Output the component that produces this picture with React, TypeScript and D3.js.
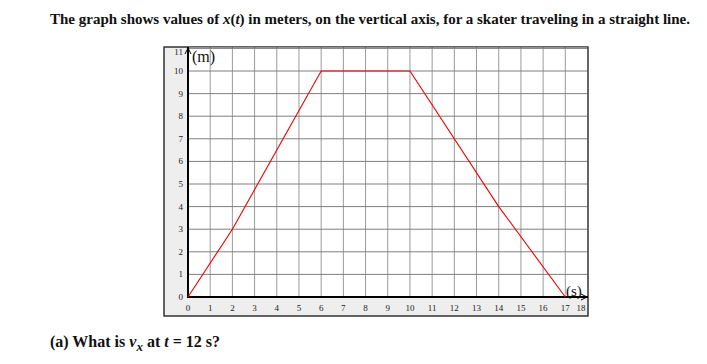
import React from "react";
import * as d3 from "d3";

const times = [0, 2, 6, 10, 14, 17];
const positions = [0, 3, 10, 10, 4, 0];
const xTicks = d3.range(0, 19);
const yTicks = d3.range(0, 12);

export default function App() {
  const W = 707, H = 364;
  const x = d3.scaleLinear().domain([0, 18]).range([188, 587.5]);
  const y = d3.scaleLinear().domain([0, 11]).range([297, 48.4]);
  const frameL = 164, frameT = 47, frameR = 588, frameB = 316;
  const line = d3.line<number>().x((d, i) => x(times[i])).y((d) => y(d));
  const font = "'Liberation Serif', 'Times New Roman', serif";

  return (
    <svg width={W} height={H} style={{ position: "absolute", left: 0, top: 0 }} fontFamily={font}>
      <rect width={W} height={H} fill="#fff" />
      <text x={50} y={24} fontSize={15} fontWeight="bold" fill="#111" textLength={640} lengthAdjust="spacingAndGlyphs">
        The graph shows values of <tspan fontStyle="italic">x</tspan>(<tspan fontStyle="italic">t</tspan>) in meters, on the vertical axis, for a skater traveling in a straight line.
      </text>

      {/* frame */}
      <rect x={frameL} y={frameT} width={frameR - frameL} height={frameB - frameT} fill="#eeeeee" stroke="#333" strokeWidth={1} />
      <rect x={x(0)} y={frameT} width={frameR - x(0)} height={y(0) - frameT} fill="#fff" />

      {/* grid */}
      {xTicks.map((t) => (
        <line key={"gx" + t} x1={x(t)} x2={x(t)} y1={frameT} y2={y(0)} stroke="#9a9a9a" strokeWidth={1} />
      ))}
      {yTicks.map((t) => (
        <line key={"gy" + t} x1={x(0)} x2={frameR} y1={y(t)} y2={y(t)} stroke="#7f7f7f" strokeWidth={1} />
      ))}
      <rect x={frameL} y={frameT} width={frameR - frameL} height={frameB - frameT} fill="none" stroke="#333" strokeWidth={1} />

      {/* axes */}
      <line x1={x(0)} x2={x(0)} y1={frameT} y2={y(0) + 1} stroke="#000" strokeWidth={2} />
      <line x1={x(0) - 1} x2={frameR} y1={y(0)} y2={y(0)} stroke="#000" strokeWidth={2} />
      <path d={`M${x(0) - 3},${frameT + 7} L${x(0)},${frameT + 1} L${x(0) + 3},${frameT + 7}`} fill="none" stroke="#000" strokeWidth={1} />
      <path d={`M${frameR - 7},${y(0) - 3} L${frameR - 1},${y(0)} L${frameR - 7},${y(0) + 3}`} fill="none" stroke="#000" strokeWidth={1} />

      {/* tick labels */}
      {xTicks.map((t) => (
        <text key={"tx" + t} x={t === 18 ? 581 : x(t)} y={311} fontSize={9} textAnchor="middle" fill="#222">{t}</text>
      ))}
      {yTicks.map((t) => (
        <text key={"ty" + t} x={183} y={t === 11 ? 55 : y(t) + 3} fontSize={9} textAnchor="end" fill="#222">{t}</text>
      ))}
      <text x={192} y={62} fontSize={16} fill="#111">(m)</text>
      <text x={566} y={296} fontSize={15} fill="#111">(s)</text>

      {/* data */}
      <path d={line(positions) || ""} fill="none" stroke="#ee0000" strokeWidth={1.1} />

      <text x={50} y={347} fontSize={16} fontWeight="bold" fill="#111">
        (a) What is <tspan fontStyle="italic">v</tspan><tspan fontStyle="italic" fontSize={13} dy={4}>x</tspan><tspan dy={-4}> at </tspan><tspan fontStyle="italic">t</tspan> = 12 s?
      </text>
    </svg>
  );
}
